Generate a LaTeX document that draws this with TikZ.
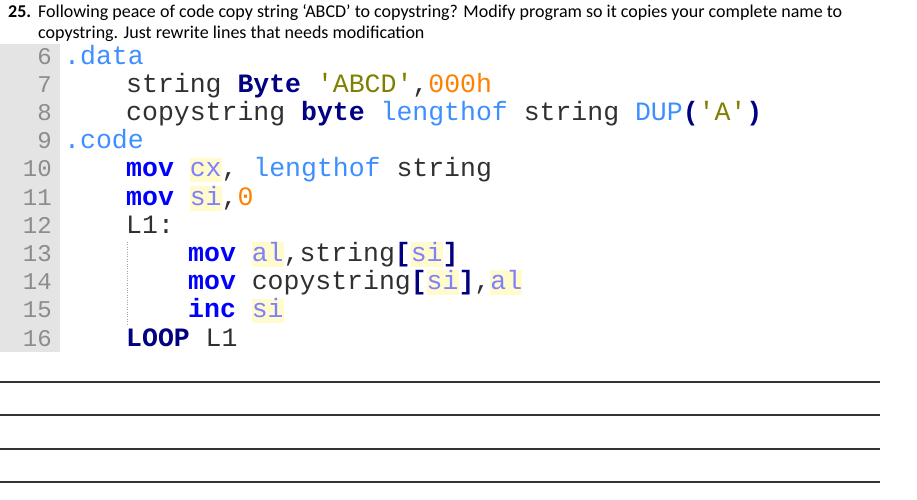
\documentclass[tikz,border=0pt]{standalone}
\usepackage{fontspec}
\setmainfont{Carlito}
\newfontfamily\codefont{Liberation Mono}
\usepackage{xcolor}
\definecolor{gutter}{HTML}{E4E4E4}
\definecolor{lnum}{HTML}{8C8C8C}
\definecolor{kwblue}{HTML}{0000FF}
\definecolor{navy}{HTML}{000080}
\definecolor{lblue}{HTML}{3D8FFF}
\definecolor{olive}{HTML}{808000}
\definecolor{orng}{HTML}{FF8000}
\definecolor{txt}{HTML}{303030}
\definecolor{reg}{HTML}{8080FF}
\definecolor{hly}{HTML}{FFFBCC}
\newcommand{\kw}[1]{\textcolor{kwblue}{\bfseries #1}}
\newcommand{\nv}[1]{\textcolor{navy}{\bfseries #1}}
\newcommand{\lb}[1]{\textcolor{lblue}{#1}}
\newcommand{\ol}[1]{\textcolor{olive}{#1}}
\newcommand{\og}[1]{\textcolor{orng}{#1}}
\newcommand{\rg}[1]{{\setlength\fboxsep{0pt}\colorbox{hly}{\textcolor{reg}{\vphantom{Ag[}#1}}}}
\tikzset{
  code/.style={anchor=base west, inner sep=0pt, font=\codefont\fontsize{26.5}{28}\selectfont, text=txt},
  lno/.style={anchor=base east, inner sep=0pt, font=\codefont\fontsize{24}{28}\selectfont, text=lnum},
  head/.style={anchor=base west, inner sep=0pt, font=\fontsize{18}{20}\selectfont},
  rule/.style={draw=black!80, line width=1.3pt}
}
\begin{document}
\begin{tikzpicture}[x=1pt,y=-1pt]
\useasboundingbox (0,0) rectangle (917,499);
\fill[gutter] (0,44) rectangle (60,352);
\node[head] (h0) at (8,17) {\textbf{25.}};
\node[head] (h1) at (38,17) {Following peace of code copy string ‘ABCD’ to copystring? Modify program so it copies your complete name to};
\node[head] (h2) at (38,38) {copystring. Just rewrite lines that needs modification};
\foreach \n [count=\i from 0] in {6,...,16}
  \node[lno] (n\n) at (52,64+28.2*\i) {\n};
\node[code] (c6) at (64,64) {\lb{.data}};
\node[code] (c7) at (126,92.2) {string \nv{Byte} \ol{'ABCD'},\og{000h}};
\node[code] (c8) at (126,120.4) {copystring \nv{byte} \lb{lengthof} string \lb{DUP}\nv{(}\ol{'A'}\nv{)}};
\node[code] (c9) at (64,148.6) {\lb{.code}};
\node[code] (c10) at (126,176.8) {\kw{mov} \rg{cx}, \lb{lengthof} string};
\node[code] (c11) at (126,205) {\kw{mov} \rg{si},\og{0}};
\node[code] (c12) at (126,233.2) {L1:};
\node[code] (c13) at (188,261.4) {\kw{mov} \rg{al},string\nv{[}\rg{si}\nv{]}};
\node[code] (c14) at (188,289.6) {\kw{mov} copystring\nv{[}\rg{si}\nv{]},\rg{al}};
\node[code] (c15) at (188,317.8) {\kw{inc} \rg{si}};
\node[code] (c16) at (126,346) {\nv{LOOP} L1};
\draw[black!35, dotted] (127,242) -- (127,326);
\foreach \y in {382,415,449,482} \draw[rule] (0,\y) -- (880,\y);
\end{tikzpicture}
\end{document}
